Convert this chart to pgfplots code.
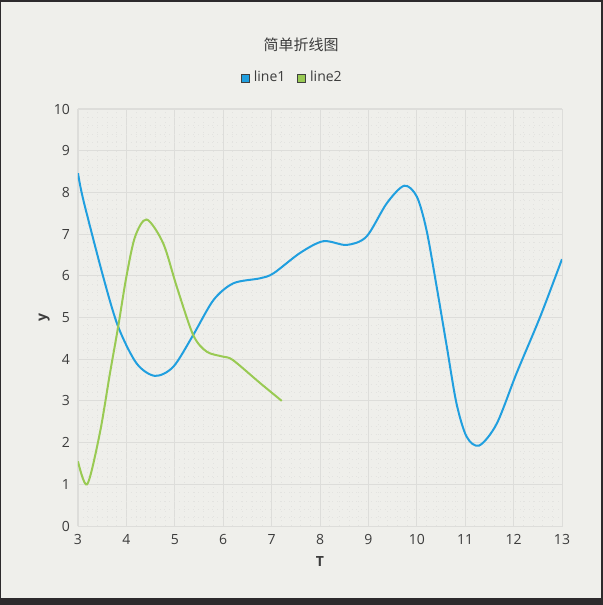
\documentclass[border=0pt]{standalone}
\usepackage{pgfplots}
\pgfplotsset{compat=1.18}
\usepackage{fontspec}
\setmainfont{Open Sans}
\newfontfamily\cjk{Noto Sans CJK SC}

\definecolor{bgcol}{RGB}{239,239,235}
\definecolor{framecol}{RGB}{45,42,44}
\definecolor{qtblue}{HTML}{209FDF}
\definecolor{qtgreen}{HTML}{99CA53}
\definecolor{txtcol}{RGB}{60,60,60}
\definecolor{gridmaj}{RGB}{221,221,218}
\definecolor{gridmin}{RGB}{227,227,224}

\begin{document}
\begin{tikzpicture}
% window background, in pixels (1px = 0.5pt, origin top left)
\begin{scope}[x=0.5pt, y=-0.5pt, shift={(0pt,302.5pt)}]
\fill[framecol] (0,0) rectangle (603,605);
\fill[bgcol] (1,2) rectangle (601,598);
\path[use as bounding box] (0,0) rectangle (603,605);
\node[font=\cjk\fontsize{7.5}{8.5}\selectfont, text=txtcol] at (301,45) {简单折线图};
\end{scope}

\begin{axis}[
  at={(39pt,39.5pt)}, anchor=south west,
  scale only axis, width=242pt, height=208.5pt,
  xmin=3, xmax=13, ymin=0, ymax=10,
  xtick={3,...,13}, ytick={0,...,10},
  minor tick num=4,
  grid=both,
  major grid style={draw=gridmaj, line width=0.5pt},
  minor grid style={draw=gridmin, line width=0.4pt, dotted},
  axis line style={draw=gridmaj},
  tick style={draw=none},
  font=\fontsize{7}{8}\selectfont,
  /pgf/number format/assume math mode=true,
  tick label style={text=txtcol},
  xticklabel style={yshift=-0.5pt},
  yticklabel style={xshift=-0.5pt},
  xlabel={\bfseries T}, ylabel={\bfseries y},
  xlabel style={at={(axis description cs:0.5,-0.086)}, anchor=center, text=txtcol},
  ylabel style={at={(axis description cs:-0.07,0.501)}, anchor=center, text=txtcol},
  legend columns=2,
  legend style={at={(axis description cs:0.445,1.074)}, anchor=center,
    draw=none, fill=none, text=txtcol, font=\fontsize{7}{8}\selectfont,
    /tikz/every even column/.append style={column sep=4pt}},
  legend image code/.code={\draw[#1, fill, draw=black!75, line width=0.4pt]
    (0pt,-2pt) rectangle (4pt,2pt);},
]
\addplot[qtblue, line width=1pt, smooth] coordinates {
  (3,8.46) (3.11,7.82) (3.52,5.98) (3.83,4.78) (4.21,3.9) (4.59,3.6)
  (4.97,3.82) (5.38,4.58) (5.8,5.42) (6.21,5.82) (6.76,5.94) (7.04,6.06)
  (7.59,6.55) (8.07,6.83) (8.55,6.74) (8.96,6.94) (9.38,7.74)
  (9.74,8.16) (10.0,7.9) (10.2,7.1) (10.41,5.74) (10.62,4.3) (10.82,2.94)
  (11.03,2.14) (11.29,1.93) (11.65,2.45) (12.06,3.66) (12.55,5.02) (13,6.4)
};
\addlegendentry{line1}
\addplot[qtgreen, line width=1pt, smooth] coordinates {
  (3,1.55) (3.19,1.0) (3.45,2.22) (3.66,3.66) (3.83,4.78) (4.0,5.98)
  (4.18,6.94) (4.42,7.35) (4.76,6.78) (5.04,5.74) (5.38,4.58) (5.66,4.18)
  (6.0,4.06) (6.2,3.98) (6.76,3.43) (7.21,3.0)
};
\addlegendentry{line2}
\end{axis}
\end{tikzpicture}
\end{document}
